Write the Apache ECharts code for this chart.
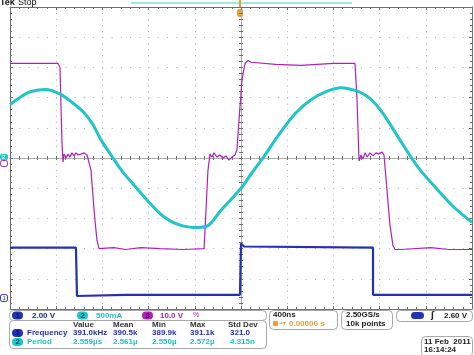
<!DOCTYPE html>
<html>
<head>
<meta charset="utf-8">
<script src="https://cdn.jsdelivr.net/npm/echarts@6/dist/echarts.min.js"></script>
<style>
html, body { margin: 0; padding: 0; background: #fff; }
#chart { width: 474px; height: 355px; }
</style>
</head>
<body>
<div id="chart"></div>
<script>
// time in ns (400 ns/div, trigger at 0), level in screen divisions from centre
const ch2Time = [-2000, -1905, -1818, -1688, -1558, -1472, -1359, -1281, -1212, -1108, -1022, -926, -805, -693, -606, -519, -407, -303, -173, 0, 87, 190, 346, 476, 606, 736, 866, 996, 1082, 1169, 1255, 1359, 1532, 1706, 1844, 2000]
const ch2Div = [1.77, 2.03, 2.2, 2.27, 2.1, 1.87, 1.5, 1.1, 0.6, 0, -0.47, -0.9, -1.43, -1.87, -2.1, -2.23, -2.3, -2.27, -1.73, -1.0, -0.53, 0, 0.87, 1.5, 1.93, 2.2, 2.33, 2.23, 2.07, 1.77, 1.33, 0.7, -0.3, -1.07, -1.63, -2.13]

const ch3Time = [-2000, -1584, -1567, -1550, -1541, -1532, -1515, -1498, -1481, -1463, -1446, -1429, -1411, -1385, -1359, -1333, -1316, -1299, -1272, -1247, -1229, -1212, -1100, -1000, -866, -700, -500, -320, -303, -286, -268, -251, -234, -208, -182, -156, -130, -104, -78, -52, -35, -17, 9, 35, 61, 87, 300, 519, 800, 987, 1004, 1022, 1039, 1056, 1074, 1091, 1117, 1143, 1169, 1195, 1221, 1238, 1264, 1290, 1316, 1333, 1385, 1645, 1800, 2000]
const ch3Div = [3.13, 3.13, 3.0, 0.5, -0.13, 0.13, 0, 0.13, 0.03, 0.17, 0.07, 0.17, 0.1, 0.13, 0.17, 0.1, 0.07, -0.4, -1.73, -2.73, -3.0, -3.03, -2.97, -3.03, -2.97, -3.0, -3.03, -3.0, -1.73, -0.4, 0.13, 0.03, 0.17, 0.03, 0.1, 0, 0.07, -0.07, 0.03, 0.1, 0.27, 1.27, 2.6, 3.13, 3.23, 3.17, 3.1, 3.07, 3.13, 3.13, 2.0, -0.1, 0.1, -0.03, 0.17, 0.03, 0.17, 0.07, 0.17, 0.13, 0.2, 0.1, -1.07, -2.23, -2.9, -3.03, -3.03, -2.97, -3.03, -3.03]

const ch1Time = [-2000, -1429, -1420, -1000, -9, 0, 0, 26, 1143, 1143, 2000]
const ch1Div = [-2.97, -2.97, -4.57, -4.53, -4.53, -4.53, -2.83, -2.93, -2.97, -4.53, -4.53]

const measHeaders = ['Value', 'Mean', 'Min', 'Max', 'Std Dev']
const freqValues = ['391.0kHz', '390.5k', '389.9k', '391.1k', '321.0']
const periodValues = ['2.559µs', '2.561µ', '2.550µ', '2.572µ', '4.315n']
const measCols = [73, 113, 152, 190, 230]

const BLUE = '#2232b4'
const CYAN = '#22c4c8'
const PURPLE = '#b020b8'
const ORANGE = '#f0a028'
const FONT = 'bold 8px "Liberation Sans", Arial, sans-serif'

const pair = (ts, vs) => ts.map((t, i) => [t, vs[i]])

const chart = echarts.init(document.getElementById('chart'))

const grat = { color: '#b4b4b4', width: 1 }
const border = { color: '#707070', width: 1 }
const centre = { color: '#a8a8a8', width: 1, type: [1, 1] }

const xBase = { type: 'value', min: -2000, max: 2000, interval: 400, gridIndex: 0, axisLabel: { show: false } }
const yBase = { type: 'value', min: -5, max: 5, interval: 1, gridIndex: 0, axisLabel: { show: false } }

const txt = (text, x, y, fill, font) => ({
  type: 'text', x, y, silent: true,
  style: { text, fill, font: font || FONT, verticalAlign: 'middle' }
})
const box = (x, y, w, h) => ({
  type: 'rect', shape: { x, y, width: w, height: h, r: 4 },
  style: { fill: '#fff', stroke: '#a8a8a8', lineWidth: 1 }
})
const pill = (x, y, fill, label, labelColor) => [
  { type: 'rect', shape: { x, y: y - 4, width: 11, height: 8, r: 4 }, style: { fill } },
  txt(label, x + 3.5, y, labelColor)
]

const graphics = [
  txt('Tek', 0, 3, '#111', 'bold 9px "Liberation Sans", Arial, sans-serif'),
  txt('Stop', 18, 3, '#111', '9px "Liberation Sans", Arial, sans-serif'),
  { type: 'rect', shape: { x: 131, y: 2, width: 221, height: 2 }, style: { fill: '#a6e6ea' } },
  { type: 'rect', shape: { x: 239, y: 0, width: 2, height: 7 }, style: { fill: ORANGE } },
  { type: 'rect', shape: { x: 237, y: 9, width: 6, height: 8, r: 2 }, style: { fill: ORANGE } },
  // channel ground markers
  { type: 'rect', shape: { x: 0, y: 154, width: 8, height: 6, r: 2 }, style: { fill: CYAN } },
  txt('2', 2, 157, '#fff', 'bold 6px "Liberation Sans", Arial, sans-serif'),
  { type: 'rect', shape: { x: 0.5, y: 160.5, width: 7, height: 6, r: 2 }, style: { fill: '#fff', stroke: PURPLE, lineWidth: 1 } },
  { type: 'rect', shape: { x: 0.5, y: 294.5, width: 7, height: 7, r: 2 }, style: { fill: '#fff', stroke: BLUE, lineWidth: 1 } },
  txt('1', 2.5, 298, BLUE, '6px "Liberation Sans", Arial, sans-serif'),
  // readout boxes
  box(9.5, 310.5, 257, 10),
  box(9.5, 320.5, 257, 28),
  box(269.5, 310.5, 68, 19),
  box(341.5, 310.5, 51, 19),
  box(396.5, 310.5, 76, 11),
  box(421.5, 336.5, 51, 20),
  ...pill(12, 315.5, BLUE, '1', '#0c1870'),
  txt('2.00 V', 32, 315.5, '#1a2890'),
  ...pill(77, 315.5, CYAN, '2', '#0c5a60'),
  txt('500mA', 96, 315.5, CYAN),
  ...pill(142, 315.5, PURPLE, '3', '#4a0850'),
  txt('10.0 V', 160, 315.5, PURPLE),
  txt('%', 193, 315.5, PURPLE, '7px "Liberation Sans", Arial, sans-serif'),
  ...measHeaders.map((h, i) => txt(h, i === 4 ? 228 : measCols[i], 325, '#333')),
  ...pill(12, 333, BLUE, '1', '#0c1870'),
  txt('Frequency', 27, 333, BLUE),
  ...freqValues.map((v, i) => txt(v, measCols[i], 333, BLUE)),
  ...pill(12, 342, CYAN, '2', '#0c5a60'),
  txt('Period', 27, 342, CYAN),
  ...periodValues.map((v, i) => txt(v, measCols[i], 342, CYAN)),
  txt('400ns', 273, 315, '#222'),
  { type: 'rect', shape: { x: 273, y: 321, width: 5, height: 5, r: 1 }, style: { fill: ORANGE } },
  txt('→▾', 278, 323.5, ORANGE, '6px "DejaVu Sans", sans-serif'),
  txt('0.00000 s', 289, 323.5, ORANGE),
  txt('2.50GS/s', 346, 315, '#222'),
  txt('10k points', 346, 324, '#222'),
  { type: 'rect', shape: { x: 411, y: 312, width: 13, height: 7, r: 3.5 }, style: { fill: BLUE } },
  txt('ʃ', 431, 315.5, '#222', 'bold 8px "DejaVu Sans", sans-serif'),
  txt('2.60 V', 444, 315.5, '#222'),
  txt('11 Feb  2011', 424, 342, '#222'),
  txt('16:14:24', 424, 350, '#222')
]

const lineSeries = (name, data, color, width, smooth) => ({
  name, type: 'line', data, xAxisIndex: 0, yAxisIndex: 0,
  showSymbol: false, smooth, animation: false,
  lineStyle: { color, width }
})

chart.setOption({
  animation: false,
  backgroundColor: '#fff',
  grid: { left: 10, top: 7, width: 462, height: 302, containLabel: false },
  xAxis: [
    { ...xBase, position: 'bottom', axisLine: { show: true, onZero: false, lineStyle: border },
      axisTick: { show: true, inside: true, length: 3, lineStyle: border },
      minorTick: { show: true, splitNumber: 5, length: 2, lineStyle: border },
      splitLine: { show: true, lineStyle: { ...grat, type: [1, 5.04] } } },
    { ...xBase, position: 'top', axisLine: { show: true, onZero: false, lineStyle: border },
      axisTick: { show: true, inside: true, length: 3, lineStyle: border },
      minorTick: { show: true, splitNumber: 5, length: 2, lineStyle: border },
      splitLine: { show: false } },
    { ...xBase, position: 'bottom', axisLine: { show: true, onZero: true, onZeroAxisIndex: 0, lineStyle: centre },
      axisTick: { show: true, length: 2, lineStyle: border },
      minorTick: { show: true, splitNumber: 5, length: 2, lineStyle: border },
      splitLine: { show: false } },
    { ...xBase, position: 'top', axisLine: { show: true, onZero: true, onZeroAxisIndex: 0, lineStyle: centre },
      axisTick: { show: true, length: 2, lineStyle: border },
      minorTick: { show: true, splitNumber: 5, length: 2, lineStyle: border },
      splitLine: { show: false } }
  ],
  yAxis: [
    { ...yBase, position: 'left', axisLine: { show: true, onZero: false, lineStyle: border },
      axisTick: { show: true, inside: true, length: 3, lineStyle: border },
      minorTick: { show: true, splitNumber: 5, length: 2, lineStyle: border },
      splitLine: { show: true, lineStyle: { ...grat, type: [1, 8.24] } } },
    { ...yBase, position: 'right', axisLine: { show: true, onZero: false, lineStyle: border },
      axisTick: { show: true, inside: true, length: 3, lineStyle: border },
      minorTick: { show: true, splitNumber: 5, length: 2, lineStyle: border },
      splitLine: { show: false } },
    { ...yBase, position: 'left', axisLine: { show: true, onZero: true, onZeroAxisIndex: 0, lineStyle: centre },
      axisTick: { show: true, length: 2, lineStyle: border },
      minorTick: { show: true, splitNumber: 5, length: 2, lineStyle: border },
      splitLine: { show: false } },
    { ...yBase, position: 'right', axisLine: { show: true, onZero: true, onZeroAxisIndex: 0, lineStyle: centre },
      axisTick: { show: true, length: 2, lineStyle: border },
      minorTick: { show: true, splitNumber: 5, length: 2, lineStyle: border },
      splitLine: { show: false } }
  ],
  series: [
    lineSeries('Ch1', pair(ch1Time, ch1Div), BLUE, 2.2, false),
    lineSeries('Ch3', pair(ch3Time, ch3Div), PURPLE, 1.2, false),
    lineSeries('Ch2', pair(ch2Time, ch2Div), CYAN, 3, 0.35)
  ],
  graphic: graphics
})
</script>
</body>
</html>
